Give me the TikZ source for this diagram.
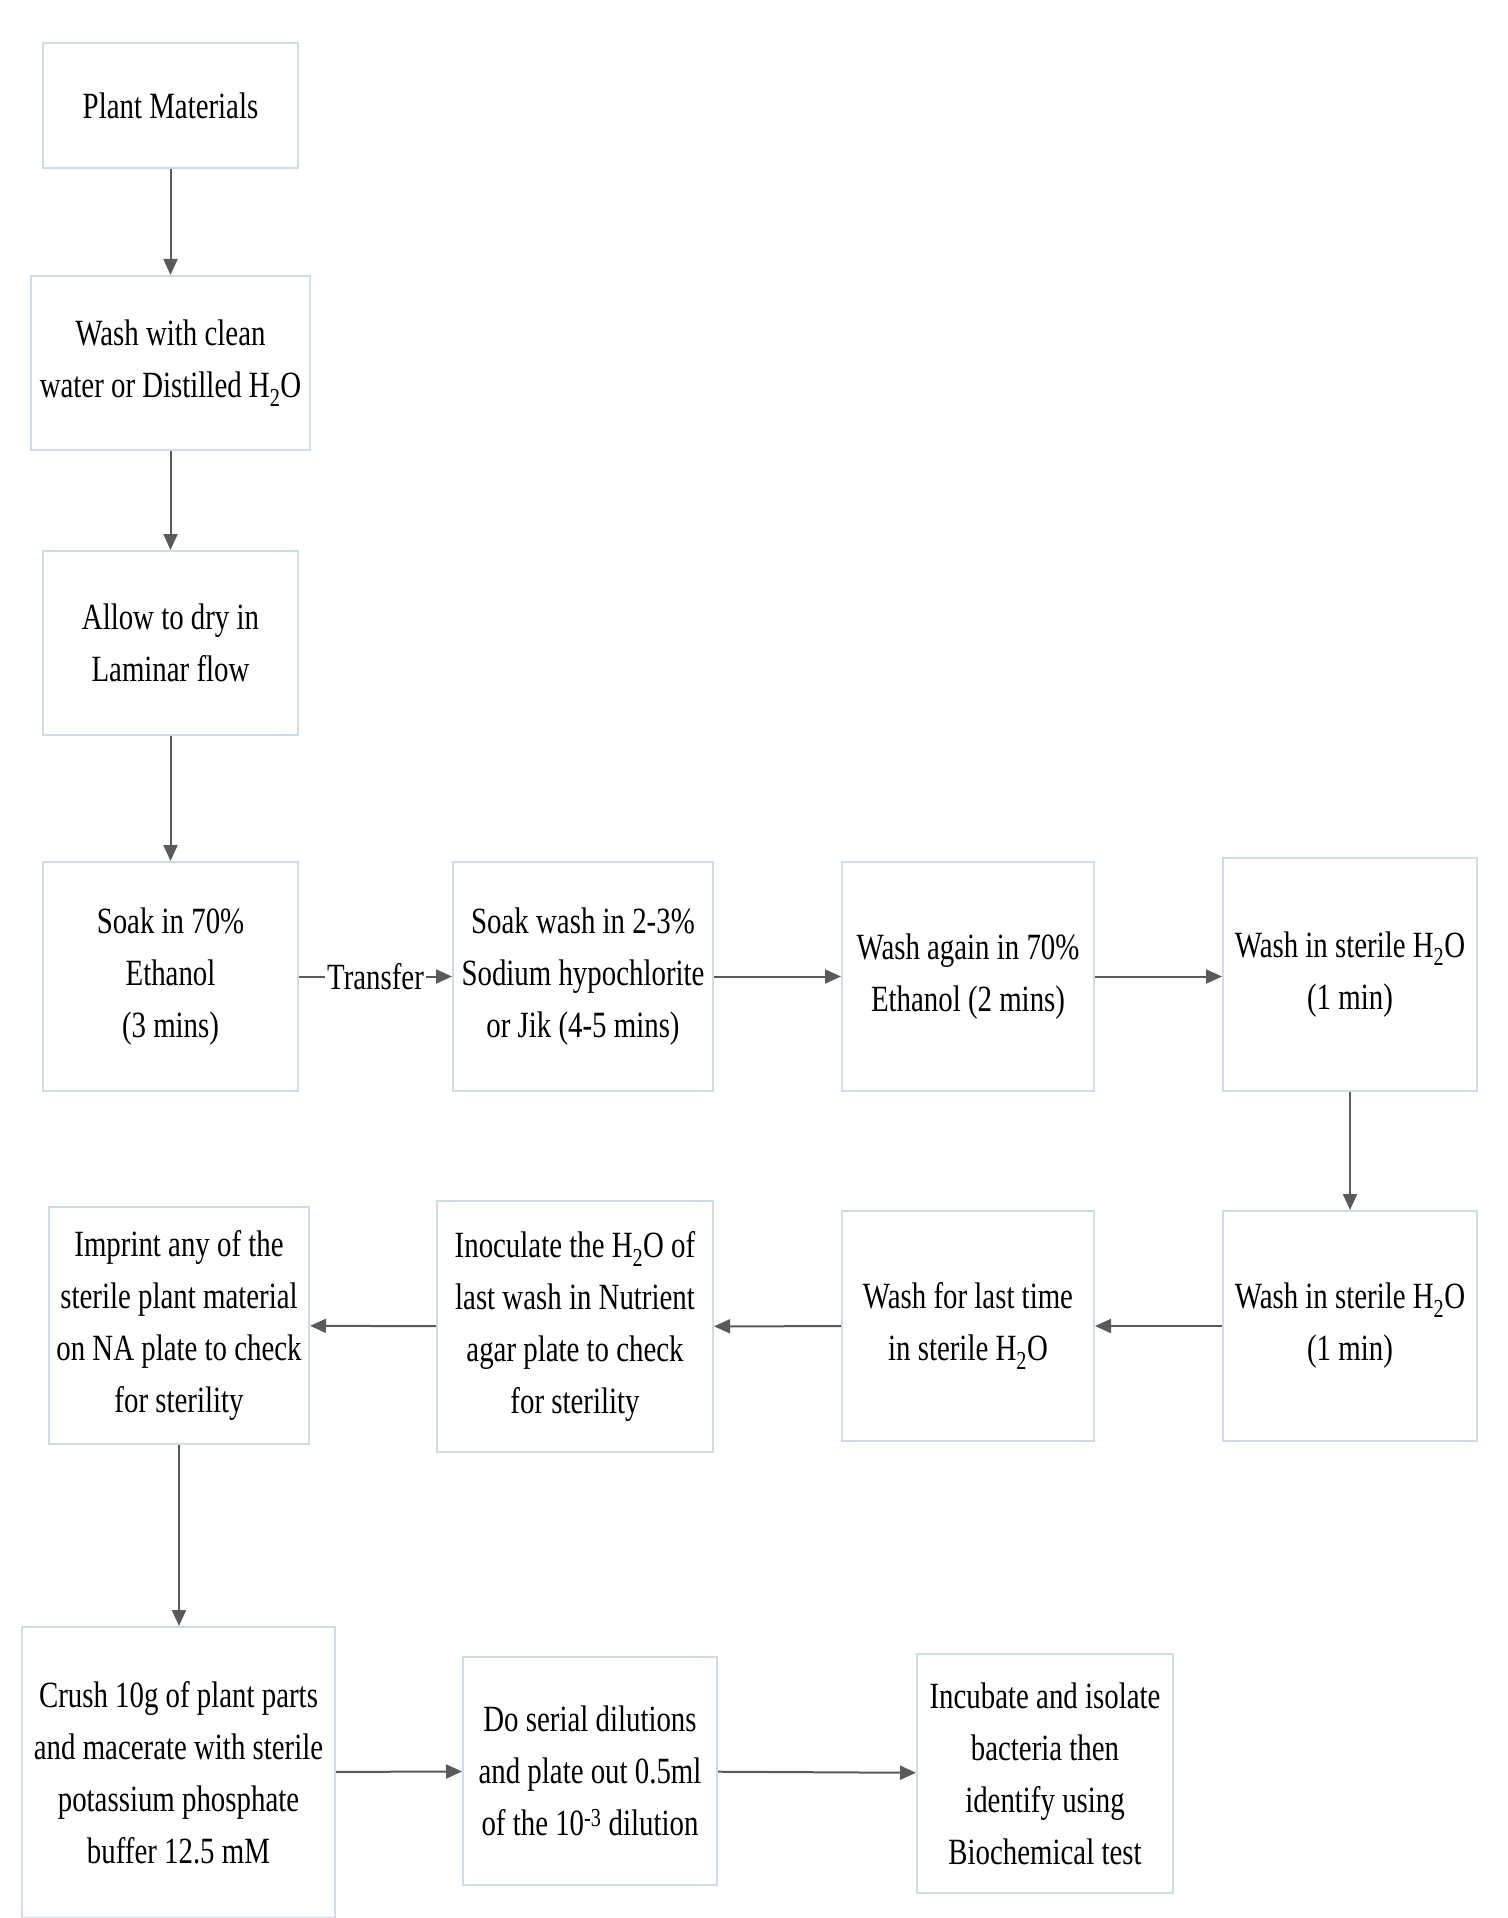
\documentclass[tikz,border=0pt]{standalone}
\usepackage{fontspec}
\setmainfont[FakeStretch=0.78]{Liberation Serif}
\usetikzlibrary{arrows.meta}
\definecolor{bx}{RGB}{205,220,232}
\definecolor{ar}{RGB}{90,90,90}
\tikzset{
 bxs/.style={draw=bx,line width=2pt,align=center,font=\fontsize{37}{52}\selectfont,inner sep=0pt},
 arr/.style={draw=ar,line width=2pt,-{Triangle[length=16pt,width=14pt]}}
}
\newcommand{\bx}[6]{\node[bxs,minimum width=#4-#2,minimum height=#5-#3] (#1) at ({(#2+#4)/2},{(#3+#5)/2}) {#6};}
\newcommand{\HtwoO}{H\textsubscript{2}O}
\begin{document}
\begin{tikzpicture}[x=1pt,y=-1pt]
\useasboundingbox (0,0) rectangle (1507,1918);
\bx{a}{43}{43}{298}{168}{Plant Materials}
\bx{b}{31}{276}{310}{450}{Wash with clean\\water or Distilled \HtwoO}
\bx{c}{43}{551}{298}{735}{Allow to dry in\\Laminar flow}
\bx{d}{43}{862}{298}{1091}{Soak in 70\%\\Ethanol\\(3 mins)}
\bx{e}{453}{862}{713}{1091}{Soak wash in 2-3\%\\Sodium hypochlorite\\or Jik (4-5 mins)}
\bx{f}{842}{862}{1094}{1091}{Wash again in 70\%\\Ethanol (2 mins)}
\bx{g}{1223}{858}{1477}{1091}{Wash in sterile \HtwoO\\(1 min)}
\bx{h}{1223}{1211}{1477}{1441}{Wash in sterile \HtwoO\\(1 min)}
\bx{i}{842}{1211}{1094}{1441}{Wash for last time\\in sterile \HtwoO}
\bx{j}{437}{1201}{713}{1452}{Inoculate the \HtwoO{} of\\last wash in Nutrient\\agar plate to check\\for sterility}
\bx{k}{49}{1207}{309}{1444}{Imprint any of the\\sterile plant material\\on NA plate to check\\for sterility}
\bx{l}{22}{1627}{335}{1918}{Crush 10g of plant parts\\and macerate with sterile\\potassium phosphate\\buffer 12.5 mM}
\bx{m}{463}{1657}{717}{1885}{Do serial dilutions\\and plate out 0.5ml\\of the 10\textsuperscript{-3} dilution}
\bx{n}{917}{1654}{1173}{1893}{Incubate and isolate\\bacteria then\\identify using\\Biochemical test}
\draw[arr] (a) -- (b);
\draw[arr] (b.south -| c) -- (c);
\draw[arr] (c) -- (d);
\draw[arr] (d) -- node[fill=white,inner sep=2pt,font=\fontsize{37}{44}\selectfont]{Transfer} (e);
\draw[arr] (e) -- (f);
\draw[arr] (f) -- (g.west |- f);
\draw[arr] (g) -- (h);
\draw[arr] (h) -- (i);
\draw[arr] (i) -- (j);
\draw[arr] (j) -- (k);
\draw[arr] (k) -- (k |- l.north);
\draw[arr] (l) -- (m);
\draw[arr] (m) -- (n);
\end{tikzpicture}
\end{document}
